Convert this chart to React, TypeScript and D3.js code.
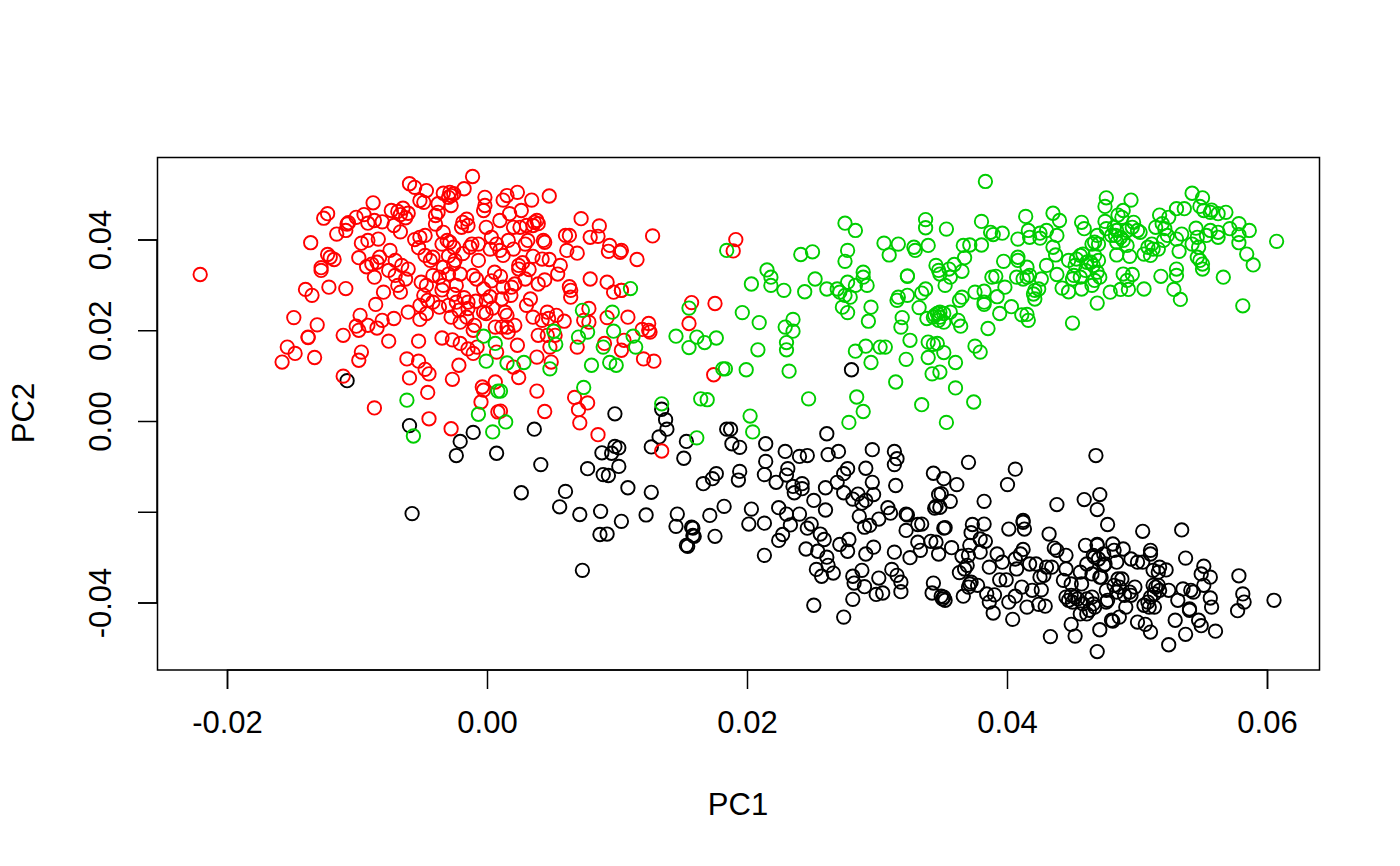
import React, { useEffect, useRef } from "react";
import * as d3 from "d3";

// scores are kept in thousandths: [PC1, PC2]
type Pt = [number, number];

const redPts: Pt[] = [
  [-22.1,32.4],[-12.6,44.8],[-12.3,45.8],[-13.6,39.4],[-11.6,41.3],[-10.9,42.1],[-10.7,43.8],[-10.8,43.5],[-10.1,45],[-9.5,45.6],
  [-8.8,48.2],[-9.2,43.7],[-8.7,44.3],[-8.1,44],[-7.4,46.5],[-6.9,46.3],[-6.5,47],[-6.1,45.9],[-6.7,45.6],[-6.3,44.9],
  [-7.2,43.2],[-6.7,41.8],[-6,52.4],[-5.6,51.6],[-5.6,40.1],[-9.7,39.3],[-9.2,39.9],[-8.4,40.2],[-9.9,36.1],[-12.3,36.8],
  [-12.1,36.2],[-11.8,35.7],[-12.8,33.9],[-12.8,33.3],[-7.5,37.7],[-8.3,36.2],[-9.3,34.1],[-8.9,34.7],[-8.5,35.1],[-8.7,31.8],
  [-7.6,33.3],[-7.1,35.5],[-6.6,34.4],[-6.1,33.6],[-7.1,32.2],[-6.3,31.4],[-6.9,30],[-14,29.1],[-12.2,29.6],[-10.9,29.3],
  [-8,28.5],[-5.2,48.7],[-5.2,40.6],[-5.3,38.3],[-5.1,30.7],
  [-1.15,54],[-1.8,51.3],[-4.7,50.9],[-3.4,50.3],[-2.9,50.5],[-2.8,49.8],[-2.6,50.2],[-3,49.4],[-4.9,48.3],[-2.8,47.6],
  [-3.8,48],[-3.8,46.1],[-4,45.4],[-4,43.5],[-0.2,49.4],[-0.2,47.6],[-0.3,46.5],[1.2,48.8],[1.5,49.8],[2.3,50.5],
  [3.4,48.8],[4.75,49.7],[2.6,46.5],[1.7,45.8],[0.95,44.3],[3.8,44.3],[3.6,43.9],[3.9,43.6],[3.5,43.2],[-1.6,44.6],
  [-1.9,43.9],[-1.5,43.2],[-2,42.8],[7.2,44.7],[8.6,43.1],[7.9,40.6],[8.5,40.8],[6,41],[6.3,41],[9.4,38.8],
  [9.3,37.5],[10.3,37.7],[10.2,37.3],[11.5,35.7],[12.7,40.9],[6.1,37.7],[6.9,37.1],[4.3,39.9],[4.4,39.5],[3.5,36.4],
  [4.2,35.8],[4.75,35.7],[5.6,34.4],[5.4,32.5],[2.4,34.4],[2.4,33.6],[0.55,32.9],[7.9,31.4],[9.2,30.7],[10.3,28.9],
  [9.7,28.5],[6.3,29.7],[4.4,31.2],[3.9,30.3],[2.9,31.4],[2.1,30.3],[1.2,29.6],[1.85,29.6],[-0.3,29.2],
  [-0.85,31.4],[-1.1,32.2],[-3.5,39.1],[-3.1,39.9],[-2.9,39.5],[-3.4,41.7],[-2.6,38.4],[-4.4,35.5],[-4.8,36.6],[-4.2,36.2],
  [-0.7,39.1],[-1.2,39.1],[-0.7,35.5],[-1.35,38.4],[0.3,40.6],[0.7,39.1],[0.95,37.7],[0.2,38],[1.2,36.6],[1.6,39.9],
  [2,38],[2.5,42.8],[2,42.8],[3,43.2],[3.1,39.9],[2.9,39.1],[-0.1,42.8],[-3.4,34],[-2.6,34.7],[-3,32.5],
  [-2.1,32.5],[-3.7,31.8],[-4.2,32.2],[-2.4,30],[-3.4,30],[-4.7,30],[-2.5,35.5],[-4.8,41],
  [-13.5,27.8],[-14.9,22.9],[-13.1,21.3],[-13.8,18.6],[-13.8,18.5],[-15.4,16.4],[-14.8,15],[-15.8,13.1],[-13.3,14.1],
  [-11.1,19],[-9.8,23.4],[-10.1,21],[-9.9,20.1],[-9.2,21.2],[-8.5,20.6],[-8.1,22.3],[-7.2,22.7],[-8.6,25.8],
  [-6.7,28.5],[-6.1,24.1],[-5.2,22.5],[-7.6,17.7],[-5.3,17.7],[-9.7,15.3],[-9.9,13.5],[-6.2,13.8],[-5.3,13.3],[-4.8,11.5],
  [-4.5,10.5],[-11.1,10],[-6,9.6],[-2.2,12.4],[-2.7,9.3],[-4.6,6.4],[-8.7,3],[-4.5,0.6],[-2.8,-1.6],[-3.5,18.4],
  [-2.7,18],[-2.1,17.2],[-1.5,16],[-1.1,15],[-0.8,16.4],[-0.4,7.6],[-0.3,6.9],[-0.5,4.3],[0.6,8.7],[0.8,2.1],
  [-1.1,20.1],[-1,21.2],[-1.6,23],[-2.1,21.9],[-2.8,23],[-4.9,27.8],[-4.6,26.7],[-4.2,26.3],[-5.2,25.6],[-4.7,23.8],
  [-3.7,25.2],[-3,25.6],[-2.4,26.3],[-1.5,26.3],[-0.1,26.7],[-0.3,24.1],[-0.1,23.8],[-1.5,24.9],
  [15.7,26.2],[17.5,26],[15.5,21.6],[17.4,10.3],[6.4,28.9],[6.4,27.4],[10.3,28.9],[1.1,27],[1.8,27.8],
  [3.3,27],[3,25.6],[1.35,24.1],[1.5,23.4],[7.8,24.9],[7.4,22.3],[7.8,21.9],[9.2,22.9],[10.8,23],[12.4,21.6],
  [11.9,20.3],[12.4,20.1],[12.5,19.7],[3.5,23],[4.2,22.3],[4.6,24.1],[4.7,22.7],[5.3,23.4],[5.9,22.1],[1.5,20.8],
  [1.1,20.8],[2.1,21.2],[1.6,19.7],[0.6,20.8],[3.9,19],[4.6,19],[5.2,19],[4.8,16.4],[2.3,16.8],[6.9,16.4],
  [9,17.2],[10.5,17.9],[10.3,15.7],[12,13.8],[12.8,13.3],[3.8,14.2],[4.9,13.1],[0.7,15.3],[2,12],[2.4,9.7],
  [3.8,6.7],[6.7,5.3],[7.7,4.1],[7,2.6],[7.1,-0.3],[4.4,2.2],[1,2.3],[8.5,-2.9],[13.4,-6.5],[19.1,40.1],[18.9,37.6],
  [-3.5,29],[-2.6,28],[-1.8,27.3],[-0.9,26.5],[0.2,27.5],[0.4,25],[-2.2,24.5],[0.3,31],[-3,36.5],[-1.9,37],[1,32],[2.7,35],[3.2,33.5],
];

const greenPts: Pt[] = [
  [-6.2,4.7],[-5.7,-3.2],[-0.3,18.8],[0.6,17.2],[-0.1,13.3],[-0.7,1.6],[0.8,6.7],[0.4,-2.3],
  [7.3,24.5],[9.6,24.1],[11,29.3],[15.5,25],[9.7,19.9],[7.7,19.7],[7,18.6],[5.1,19.9],[5.25,17],[11.2,18.8],[11.4,16.4],[8.9,16.4],
  [14.5,18.8],[16.1,18.6],[16.7,17.4],[17.6,18.4],[15.5,16.3],[1.5,12.9],[2.8,13],[4.8,11.6],[8,12.4],[9.4,13],
  [9.9,12.4],[1,6.7],[7.4,7.5],[18.1,11.6],[16.4,5],[16.9,4.8],[13.4,3.9],[1.4,-0.1],[16.1,-3.6],
  [38.3,52.9],[27.5,43.7],[28.3,42.1],[33.7,44.5],[33.7,42.7],[35.3,42.4],[38,44.1],[30.5,39.3],[31.6,39.1],[30.9,36.7],
  [32.8,38.4],[32.9,37.7],[33.9,38.8],[36.6,38.8],[37.1,38.9],[38,38.9],[38.7,41.7],[24.1,36.8],[25,37.4],[27.7,37.7],
  [27.5,35.3],[18.4,37.7],[21.5,33.4],[21.8,31.8],[21.8,30],[20.3,30.3],[22.8,28.9],[24.4,28.6],[25.2,31.4],[26.1,29.2],
  [26.9,29.2],[27.1,28.5],[27.7,30.7],[27.5,27.8],[27.9,27.4],[28.3,30],[28.9,32.9],[28.9,31.8],[29.2,30],
  [32.3,32.1],[32.3,32],[34.5,34.4],[34.7,33.3],[35.9,34.6],[35.5,33.6],[36.5,33.1],[35.2,30],
  [35.6,31.8],[34.8,32.5],[36.7,36.1],[31.6,27.4],[31.5,26.7],[32.3,27.8],[33.7,29.2],[33.4,28.3],[37.5,28.5],[38.2,28.7],
  [36.5,27.4],[36.3,26.7],[38.8,31.8],
  [41.4,45.2],[43.5,45.9],[44,44.3],[38.9,41.2],[39.6,41.5],[40.8,40.2],[41.6,42.1],[41.7,40.6],
  [42.5,41.5],[42.5,40.4],[43,42.1],[43.8,41],[43.5,38.4],[43.7,36.7],[45.7,43.9],[45.9,42.5],[47.6,49.3],[47.5,47.4],
  [49.5,48.8],[47.5,44.1],[47.6,42.5],[48.9,46.5],[48.5,45.5],[48.8,45],[49.7,43.9],[48.2,42.8],[48.4,42.1],[48.3,41],
  [48.7,40.6],[48.9,39.9],[48,41],[48.4,39.5],[49.2,42.1],[49.6,42.8],[50.2,41.7],[50,42.1],[49.2,38.8],[46.9,41],
  [46.7,39.5],[46.5,39.1],[47,39.1],[48.4,36.7],[49.4,36.4],[50.5,36.9],[51,36.6],[50.8,38.4],[51.2,38],[51.6,38],
  [51.1,39.1],[51.4,42.8],[51.7,45.5],[52.4,45],[51.9,43.6],[52.1,42.5],[52.3,41],[52,39.9],[53,40.2],[53,46.9],
  [53.6,46.9],[53.4,41.3],[53.2,37.5],[54.2,50.3],[55,49.3],[54.8,47.4],[55.1,46.5],[55.7,46.6],[55.6,46.1],[56.2,45.8],
  [56.8,46.1],[54.5,42.6],[54.2,39.1],[54.6,40.6],[55.3,41],[55.6,42.1],[56.2,41.7],[56.2,40.6],[57.1,42.5],[54.7,38.4],
  [54.6,36.2],[54.8,35.5],[55,34.7],[55,33.6],[57.8,43.6],[57.8,41.2],[57.8,39.4],[58.6,42.1],[58.4,36.9],[58.9,34.5],
  [60.7,39.7],[56.6,31.8],[58.1,25.5],[53,33.6],[53,32.2],[51.8,32],[52.8,29.1],[53.3,26.9],[50.5,29.2],[48.9,32.5],
  [49.6,32.4],[49.2,31.1],[48.7,29.1],[49.3,29.1],[47.9,28.5],[46.9,26.1],[45.6,36.6],[45.3,35.8],[45.8,36.9],[46.7,36.6],
  [47,35.5],[46.4,35.1],[46.6,34.4],[46,33.3],[45.2,34.4],[44.7,35.5],[47.1,31.8],[46.7,31.1],[46.5,30],[45.7,29.2],
  [45.1,32.2],[45.6,31.8],[44.7,28.6],[44.2,29.4],[45,31.4],[46.9,32.9],[46.1,35.1],[43,34.4],[43.8,32.4],[42.6,31.4],
  [41.5,34],[40.8,35.5],[40.8,36.2],[41.5,31.8],[41.2,31.4],[40.7,31.8],[41.7,32.2],[39.7,35.3],[39.1,32],[39.8,29.6],
  [39.2,27.5],[42,28.1],[42.1,27],[42.1,28.9],[42.4,29.2],[38.2,26.3],[40.3,25.3],[41.1,23.5],
  [41.5,23.6],[41.6,22.3],[45,21.7],
  [19.6,24],[20.9,21.8],[22.9,20.8],[23.5,22.5],[23.5,19.9],[23,17.4],[23,15.8],[20.8,15.8],[18.3,11.6],[19.9,11.4],
  [23.2,11.1],[24.7,5],[20.2,1.2],[20.4,-2.3],[28.4,5.4],[28.9,2.2],[27.8,-0.2],[29.5,25.2],[29.3,22.1],[27.7,24],
  [27.3,25.2],[31.9,22.9],[31.8,20.8],[33.2,25.1],[32.5,17.9],[28.3,15.5],[29.1,16.6],[30.2,16.4],[30.6,16.4],[29.5,13],
  [32.2,13.7],[31.4,8.7],[33.4,3.7],[35.3,-0.2],[37.4,4.3],[36,7.4],[36,13],[33.9,17.5],[34.6,17.2],[34.3,17],
  [35.1,15.2],[33.9,14.1],[34.2,10.5],[34.8,10.9],[33.8,22.7],[34.3,23],[34.6,23.8],[34.8,24.1],[34.8,23],[35.1,23.8],
  [34.7,22.3],[35.1,21.9],[34.4,23.4],[35.6,24.1],[36.2,22.3],[36.4,21],[38.2,25.8],[39.4,23.8],[38.5,20.5],[37.5,16.6],
  [37.9,15.3],
];

const blackPts: Pt[] = [
  [-10.8,9],[-6,-0.9],[-1.1,-2.4],[9.8,1.7],[3.6,-1.7],[13.4,2.7],[13.7,0.4],[13.8,-1.7],[13.2,-3.4],
  [12.6,-5.6],[18.4,-1.7],[18.7,-1.7],[9.8,-5.5],[10.1,-5.8],[0.7,-7],
  [28,11.4],[26.1,-2.7],[-2.1,-4.4],[-2.4,-7.5],[4.1,-9.5],[2.6,-15.7],[6,-15.4],[5.55,-18.8],[7.1,-20.5],
  [8.7,-19.8],[10.3,-22],[8.65,-24.9],[9.2,-24.8],[-5.8,-20.3],[7.3,-32.8],[7.7,-10.4],[8.9,-11.7],[9.3,-11.9],[10.1,-9.9],
  [8.8,-6.9],[9.55,-7],[10.8,-14.6],[12.6,-15.6],[12.2,-20.6],[15.1,-8.1],[15.3,-4.4],[14.6,-20.4],[14.5,-23.1],[15.7,-23.3],
  [15.3,-27.3],[15.8,-25.1],[18.8,-4.9],[19.4,-5.7],[21.4,-4.9],[21.4,-8.8],[21.3,-11.7],[22.9,-6.6],
  [24,-7.7],[24.6,-7.5],[26.2,-7.3],[27,-6.6],[29.6,-6.2],[31.3,-6.6],[31.5,-8.2],[31.3,-9.5],[29.1,-10.3],
  [27.7,-10.4],[27.4,-11.5],[26.9,-13.4],[29.6,-13.4],[29.7,-16.1],[31.4,-14.1],[34.3,-11.4],[35.1,-12.6],[34.7,-16.1],[34.5,-18.7],
  [34.4,-19.1],[17.6,-11.5],[17.3,-12.6],[16.6,-13.7],[19.4,-11],[19.3,-12.9],[22.2,-13.4],[23.1,-10.4],[23,-11.8],[23.5,-14.3],
  [24.2,-13.7],[24.2,-14.8],[23.6,-15.7],[26,-14.6],[25.1,-17.4],[26,-19.5],[27.4,-15.7],[28.1,-17.1],[28.5,-16],[28.8,-18],
  [29.1,-17.4],[28.6,-20.9],[29,-23.3],[29.4,-22.9],[30.1,-21.5],[30.8,-19],[31,-20.2],[32.2,-20.4],[32.3,-20.6],[32.2,-24],
  [33.4,-22.6],[33.1,-22.7],[35.1,-23.5],[33.1,-26.6],[33.3,-28.4],[34.1,-26.4],[34.5,-26.6],[34.7,-29.2],[31.3,-28.8],[32.5,-30],
  [29.7,-27.7],[29.1,-29.2],[27.8,-26],[27.1,-27.1],[27.7,-28.6],[20.3,-19.3],[22.4,-19],[23,-20.4],[24,-20.4],[23.3,-22.8],
  [24.9,-22.6],[24.6,-23.5],[25.6,-24.8],[25.9,-26],[24.5,-28.1],[25.4,-28.6],[22.7,-24.9],[22.4,-26.2],[20.1,-22.6],[21.3,-22.4],
  [21.3,-29.5],[18.2,-18.7],[17.1,-20.7],[17.5,-25.3],[15.8,-23.5],[15.9,-25.3],[15.4,-27.5],[26.1,-29.9],[26.2,-31.7],[25.3,-32.6],
  [25.7,-34.1],[26.6,-33.4],[25.1,-40.5],[27.4,-43.1],[28.1,-39.2],[28.1,-34.1],[28.2,-35.6],[28.8,-32.8],[29,-36.4],[30.1,-34.5],
  [31.1,-32.6],[31.5,-33.9],[31.8,-35.4],[31.8,-37.5],[29.9,-38.1],[30.4,-37.8],[34.3,-35.6],[34.2,-37.8],[34.9,-38.5],[35,-39.1],
  [37,-9],[40.6,-10.5],[40,-13.9],[46.8,-7.5],[47.1,-16.1],[45.9,-17.2],[46.9,-19.4],[43.8,-18.3],[38.2,-17.6],[36.1,-13.9],
  [35.6,-17.6],[34.9,-15.9],[34.8,-18.9],[37.3,-22.7],[37.2,-24.5],[38.2,-22.6],[35.2,-23.4],[41.2,-21.8],[41.2,-22.2],[41.3,-23.7],
  [40.1,-23.7],[43.2,-24.8],[47.7,-22.7],[35.7,-27.8],[37.9,-25.9],[38.3,-26.4],[37.9,-28.8],[37.1,-27.3],[36.5,-29.7],[37,-29.5],
  [36.9,-31.7],[36.3,-33.3],[36.7,-32.5],[39.2,-29.2],[38.6,-32.1],[39.6,-31],[39.4,-34.9],[39.9,-34.9],[41.2,-28.2],[41,-29.2],
  [40.6,-30.3],[40.7,-32.5],[41.1,-36.5],[41.7,-31.4],[42.2,-31.4],[43,-32.1],[43.4,-32.1],[42.8,-33.9],[42.5,-34.3],[42.6,-37.1],
  [41.9,-37.2],[43.6,-27.9],[43.8,-28.4],[44.5,-29.5],[44.5,-32.5],[44.3,-35],[46,-27.3],[46.9,-27.1],[37.1,-35.8],[37.2,-35.4],
  [37.7,-36.1],[37,-36.5],[36.6,-38.5],[35.1,-38.7],[35.2,-39.4],[38.4,-38],[38.6,-39.8],[39,-38.2],[38.9,-42.2],[40.1,-39.8],
  [40.6,-38.5],[40.4,-43.6],[41.5,-40.9],[42.4,-40.3],[42.9,-40.7],[43.3,-47.4],[44.9,-44.7],[45.2,-47.3],[47.1,-45.9],
  [44.7,-39.4],[44.9,-38.3],[45.2,-38.7],[45.4,-39.1],[45,-39.8],[44.5,-38.7],[46.1,-39.1],[46.5,-38.7],[45.8,-40.2],[46.7,-40.9],
  [46.1,-42.4],[45.6,-42.4],[46.3,-41.6],[45.6,-33.2],[46.5,-33.6],[47.1,-34.3],[46.1,-31.4],[46.7,-29.9],[47,-30.3],[46.6,-29.5],
  [47.4,-31.7],[47.4,-29.2],[44.9,-35.8],[45.7,-35.8],[47.6,-37.2],[47.7,-39.4],[48,-43.8],
  [50.4,-24.2],[53.4,-23.9],[53.7,-30.1],[57.8,-34],[58.1,-38],[58.2,-39.8],[57.7,-41.7],[60.5,-39.4],[55.1,-31.9],[54.9,-33.6],
  [55.6,-34.3],[55.1,-36.1],[55.6,-38.9],[55.7,-40.9],[56,-46.2],[54.9,-45],[54.7,-43.8],[53.7,-46.9],[52.9,-43.8],[52.4,-49.2],
  [54,-41.3],[54,-41.6],[53.5,-36.9],[54.1,-37.2],[54.3,-37.6],[53.1,-39.4],[52.4,-37.2],[51,-28.4],[51,-29.2],[52.2,-32.7],
  [51.7,-32.1],[51.2,-32.8],[51.6,-33.2],[48.9,-28.1],[48.1,-27],[48.2,-28.4],[46.9,-27.3],[49.5,-30.3],[50,-31],[50.4,-31],
  [48.4,-31],[47.5,-31.4],[47.2,-34.3],[48.5,-34.7],[48.8,-34.7],[48.2,-36.1],[48.6,-36.5],[48.4,-37.6],[49.8,-36.5],[49.4,-37.6],
  [49.5,-38.3],[49,-38.3],[51.2,-36.1],[51.4,-36.5],[51.7,-37.2],[51.6,-36.1],[51.3,-38],[51,-38.7],[50.5,-40.5],[50.9,-40.9],
  [51.3,-40.9],[50.8,-39.8],[49.1,-40.9],[48.6,-43.1],[48.1,-44],[46.9,-50.7],[50,-44.2],[50.6,-44.7],[51,-46.4],
  [47.6,-39.8],[46.6,-40.2],
];

const xTicks = [-0.02, 0, 0.02, 0.04, 0.06];
const xLabels = ["-0.02", "0.00", "0.02", "0.04", "0.06"];
const yTicks = [-0.04, -0.02, 0, 0.02, 0.04];
const yLabels = ["-0.04", "", "0.00", "0.02", "0.04"];

const font = "'Liberation Sans', Arial, sans-serif";

export default function App() {
  const svgRef = useRef<SVGSVGElement | null>(null);

  useEffect(() => {
    const svg = d3.select(svgRef.current);
    svg.selectAll("*").remove();

    const x = d3.scaleLinear().domain([-0.02, 0.06]).range([227.5, 1267.5]);
    const y = d3.scaleLinear().domain([-0.04, 0.04]).range([603, 240]);

    const groups: [Pt[], string][] = [
      [blackPts, "#000000"],
      [redPts, "#ff0000"],
      [greenPts, "#00cd00"],
    ];
    groups.forEach(([pts, color]) => {
      svg.append("g")
        .selectAll("circle")
        .data(pts)
        .join("circle")
        .attr("cx", (d) => x(d[0] / 1000))
        .attr("cy", (d) => y(d[1] / 1000))
        .attr("r", 6.7)
        .attr("fill", "none")
        .attr("stroke", color)
        .attr("stroke-width", 1.9);
    });

    // box
    svg.append("rect")
      .attr("x", 157.5).attr("y", 157.5)
      .attr("width", 1162).attr("height", 512.5)
      .attr("fill", "none").attr("stroke", "#000").attr("stroke-width", 1.5);

    const xAxis = svg.append("g")
      .attr("transform", "translate(0,670)")
      .call(d3.axisBottom(x).tickValues(xTicks).offset(0).tickSize(19).tickPadding(22)
        .tickFormat((_, i) => xLabels[i]));
    xAxis.select(".domain").attr("stroke-width", 1.5);
    xAxis.selectAll("line").attr("stroke-width", 1.5);
    xAxis.selectAll("text").attr("font-size", 31).attr("font-family", font).attr("fill", "#000");

    const yAxis = svg.append("g")
      .attr("transform", "translate(157,0)")
      .call(d3.axisLeft(y).tickValues(yTicks).offset(0).tickSize(19)
        .tickFormat((_, i) => yLabels[i]));
    yAxis.select(".domain").attr("stroke-width", 1.5);
    yAxis.selectAll("line").attr("stroke-width", 1.5);
    yAxis.selectAll("text")
      .attr("font-size", 31).attr("font-family", font).attr("fill", "#000")
      .attr("text-anchor", "middle").attr("dy", 0).attr("x", 0)
      .attr("transform", "translate(-46,0) rotate(-90)");

    svg.append("text").attr("x", 738).attr("y", 815)
      .attr("text-anchor", "middle").attr("font-size", 31).attr("font-family", font)
      .text("PC1");
    svg.append("text")
      .attr("transform", "translate(34,413) rotate(-90)")
      .attr("text-anchor", "middle").attr("font-size", 31).attr("font-family", font)
      .text("PC2");
  }, []);

  return (
    <svg
      ref={svgRef}
      width={1400}
      height={866}
      style={{ position: "absolute", top: 0, left: 0, background: "white" }}
    />
  );
}
